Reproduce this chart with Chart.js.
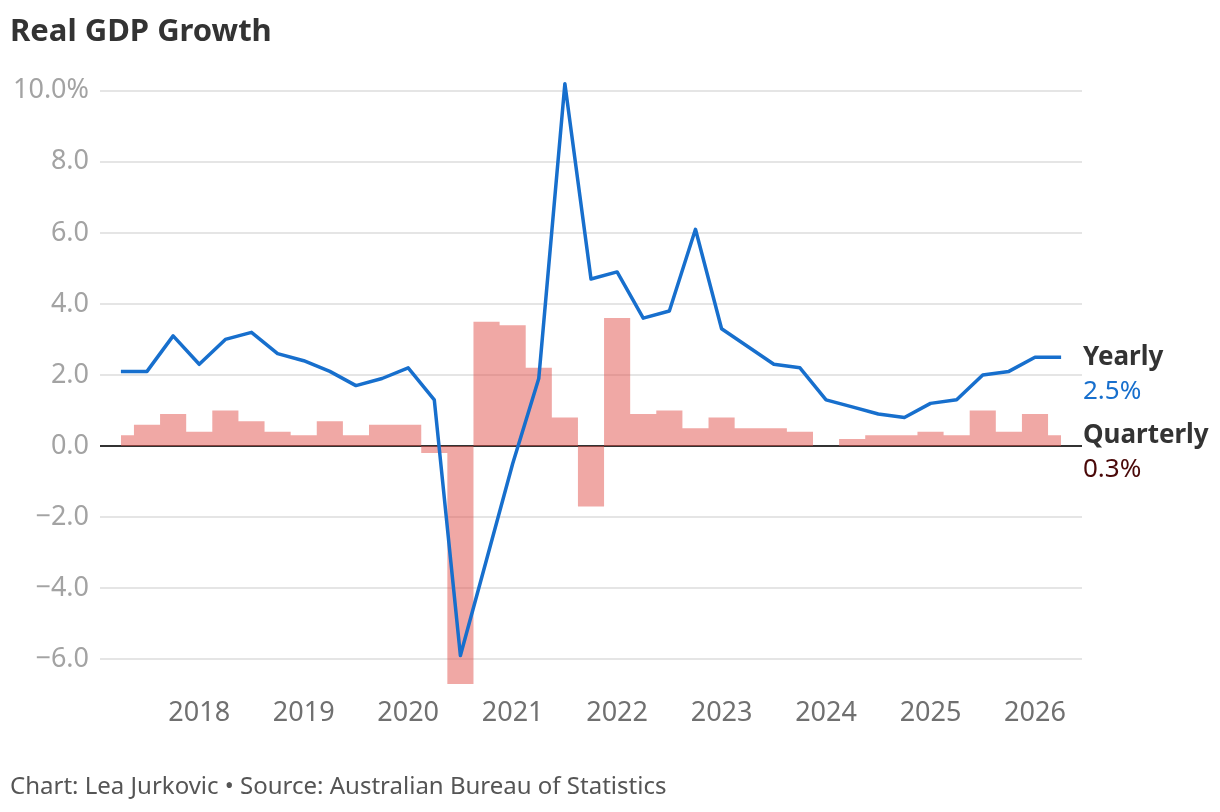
<!DOCTYPE html>
<html>
<head>
<meta charset="utf-8">
<title>Real GDP Growth</title>
<script src="https://cdn.jsdelivr.net/npm/chart.js@4/dist/chart.umd.min.js"></script>
<style>
    html, body {
        margin: 0;
        padding: 0;
        background: #fff;
    }
    .wrap {
        position: relative;
        width: 1220px;
        height: 812px;
        font-family: 'Noto Sans', 'Open Sans', sans-serif;
    }
    .chart-title {
        position: absolute;
        left: 10px;
        top: 8px;
        font-size: 31px;
        font-weight: bold;
        color: #333;
    }
    .chart-footer {
        position: absolute;
        left: 10px;
        top: 768px;
        font-size: 24px;
        color: #555;
    }
    #gdpChart {
        position: absolute;
        left: 0;
        top: 0;
    }
</style>
</head>
<body>
<div class="wrap">
    <canvas id="gdpChart" width="1220" height="812"></canvas>
    <div class="chart-title">Real GDP Growth</div>
    <div class="chart-footer">Chart: Lea Jurkovic &bull; Source: Australian Bureau of Statistics</div>
</div>

<script>
const quarters = [
    '2017 Q2', '2017 Q3', '2017 Q4',
    '2018 Q1', '2018 Q2', '2018 Q3', '2018 Q4',
    '2019 Q1', '2019 Q2', '2019 Q3', '2019 Q4',
    '2020 Q1', '2020 Q2', '2020 Q3', '2020 Q4',
    '2021 Q1', '2021 Q2', '2021 Q3', '2021 Q4',
    '2022 Q1', '2022 Q2', '2022 Q3', '2022 Q4',
    '2023 Q1', '2023 Q2', '2023 Q3', '2023 Q4',
    '2024 Q1', '2024 Q2', '2024 Q3', '2024 Q4',
    '2025 Q1', '2025 Q2', '2025 Q3', '2025 Q4',
    '2026 Q1', '2026 Q2'
];

// year-on-year growth, %
const yearlyGrowth = [
    2.1, 2.1, 3.1, 2.3, 3.0, 3.2, 2.6, 2.4, 2.1, 1.7, 1.9, 2.2, 1.3,
    -5.9, -3.2, -0.5, 1.9, 10.2, 4.7, 4.9, 3.6, 3.8, 6.1, 3.3, 2.8,
    2.3, 2.2, 1.3, 1.1, 0.9, 0.8, 1.2, 1.3, 2.0, 2.1, 2.5, 2.5
];

// quarter-on-quarter growth, %
const quarterlyGrowth = [
    0.3, 0.6, 0.9, 0.4, 1.0, 0.7, 0.4, 0.3, 0.7, 0.3, 0.6, 0.6, -0.2,
    -6.7, 3.5, 3.4, 2.2, 0.8, -1.7, 3.6, 0.9, 1.0, 0.5, 0.8, 0.5,
    0.5, 0.4, 0.0, 0.2, 0.3, 0.3, 0.4, 0.3, 1.0, 0.4, 0.9, 0.3
];

const yTicks = [-6, -4, -2, 0, 2, 4, 6, 8, 10];

const FONT = "'Noto Sans', 'Open Sans', sans-serif";
const BLUE = '#176fcd';
const DARK_RED = '#4a0909';

const toPoints = values => values.map((v, i) => ({ x: i, y: v }));

// labels at the right end of each series
const endLabels = {
    id: 'endLabels',
    afterDatasetsDraw(chart) {
        const { ctx, chartArea, scales } = chart;
        const last = quarters.length - 1;
        const x = chartArea.right + 1;
        const items = [
            { name: 'Yearly', value: yearlyGrowth[last], color: BLUE },
            { name: 'Quarterly', value: quarterlyGrowth[last], color: DARK_RED }
        ];

        ctx.save();
        ctx.textAlign = 'left';
        ctx.textBaseline = 'middle';
        items.forEach(item => {
            const y = scales.y.getPixelForValue(item.value);
            ctx.font = `bold 26px ${FONT}`;
            ctx.fillStyle = '#333';
            ctx.fillText(item.name, x, y);
            ctx.font = `26px ${FONT}`;
            ctx.fillStyle = item.color;
            ctx.fillText(item.value.toFixed(1) + '%', x, y + 34);
        });
        ctx.restore();
    }
};

function formatY(value) {
    if (value === 10) return '10.0%';
    if (value < 0) return '\u2212' + Math.abs(value).toFixed(1);
    return value.toFixed(1);
}

const ctx = document.getElementById('gdpChart').getContext('2d');
const chart = new Chart(ctx, {
    type: 'line',
    data: {
        datasets: [
            {
                label: 'Yearly',
                data: toPoints(yearlyGrowth),
                borderColor: BLUE,
                borderWidth: 3.5,
                borderJoinStyle: 'round',
                pointRadius: 0,
                tension: 0,
                fill: false,
                order: 0
            },
            {
                label: 'Quarterly',
                data: toPoints(quarterlyGrowth),
                stepped: 'middle',
                borderColor: 'transparent',
                backgroundColor: 'rgba(226, 82, 76, 0.5)',
                pointRadius: 0,
                fill: 'origin',
                order: 1
            }
        ]
    },
    plugins: [endLabels],
    options: {
        responsive: false,
        animation: false,
        layout: {
            padding: { top: 73, right: 138, bottom: 78, left: 0 }
        },
        plugins: {
            legend: { display: false },
            tooltip: { enabled: false },
            title: { display: false }
        },
        scales: {
            x: {
                type: 'linear',
                min: -0.8,
                max: quarters.length - 1 + 0.8,
                grid: { display: false, drawTicks: false },
                border: { display: false },
                afterBuildTicks: scale => {
                    scale.ticks = quarters
                        .map((q, i) => ({ value: i, q }))
                        .filter(t => t.q.endsWith('Q1'))
                        .map(t => ({ value: t.value }));
                },
                afterFit: scale => { scale.height = 50; },
                ticks: {
                    autoSkip: false,
                    maxRotation: 0,
                    padding: 13,
                    color: '#707070',
                    font: { family: FONT, size: 27 },
                    callback: value => quarters[value].slice(0, 4)
                }
            },
            y: {
                min: -6.7,
                max: 10.5,
                border: { display: false },
                afterBuildTicks: scale => {
                    scale.ticks = yTicks.map(v => ({ value: v }));
                },
                afterFit: scale => { scale.width = 100; },
                grid: {
                    drawTicks: false,
                    color: c => (c.tick && c.tick.value === 0 ? '#333' : '#e5e5e5'),
                    lineWidth: 2
                },
                ticks: {
                    padding: 11,
                    color: '#a3a3a3',
                    font: { family: FONT, size: 27 },
                    callback: formatY
                }
            }
        }
    }
});
</script>
</body>
</html>
